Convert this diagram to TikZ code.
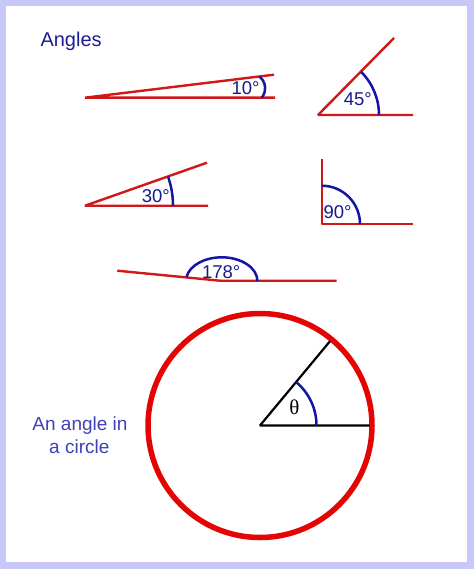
\documentclass[tikz,border=0pt]{standalone}
\usepackage{fontspec}
\usetikzlibrary{calc}
\setmainfont{Liberation Sans}
\newfontfamily\thetafont{Liberation Serif}
\definecolor{bordercol}{RGB}{200,200,248}
\definecolor{redline}{RGB}{208,24,24}
\definecolor{redcircle}{RGB}{228,4,4}
\definecolor{arcblue}{RGB}{20,20,165}
\definecolor{titleblue}{RGB}{28,28,150}
\definecolor{lblblue}{RGB}{25,25,140}
\definecolor{sideblue}{RGB}{64,64,184}
\tikzset{
  redarm/.style={draw=redline, line width=2.4pt, line join=bevel},
  bluearc/.style={draw=arcblue, line width=2.5pt},
  blackarm/.style={draw=black, line width=2.2pt, line join=bevel},
  deglbl/.style={text=lblblue, font=\fontsize{18.5}{20}\selectfont, inner sep=0pt, anchor=base},
}
\begin{document}
\begin{tikzpicture}[x=1pt,y=-1pt]
\useasboundingbox (0,0) rectangle (474,569);
\fill[bordercol] (0,0) rectangle (474,569);
\fill[white] (6,6) rectangle (467,562);
% title
\node[anchor=base west, inner sep=0pt, text=titleblue, font=\fontsize{20}{22}\selectfont] (title) at (40.3,46.7) {Angles};
% 10 degrees
\coordinate (v10) at (85,97.7);
\draw[redarm] (275,97.7) -- (v10) -- (274,74.7);
\draw[bluearc] (261.7,97.7) .. controls (266.5,92) and (266.5,82) .. (259.5,76.8);
\node[deglbl] (l10) at (245.5,94.3) {10°};
% 45 degrees
\coordinate (v45) at (318,115);
\draw[redarm] (413,115) -- (v45) -- (394,38);
\draw[bluearc] ($(v45)+(61,0)$) arc[start angle=0, end angle=-45, radius=61];
\node[deglbl] (l45) at (357.8,106) {45°};
% 30 degrees
\coordinate (v30) at (85,205.7);
\draw[redarm] (208,205.7) -- (v30) -- (207,162.7);
\draw[bluearc] ($(v30)+(88,0)$) arc[start angle=0, end angle=-19.4, radius=88];
\node[deglbl] (l30) at (155.8,202.3) {30°};
% 90 degrees
\coordinate (v90) at (321.7,224);
\draw[redarm] (412.7,224) -- (v90) -- (321.7,159);
\draw[bluearc] ($(v90)+(38.3,0)$) arc[start angle=0, end angle=-90, radius=38.3];
\node[deglbl] (l90) at (337.5,218.3) {90°};
% 178 degrees
\coordinate (v178) at (220,280.7);
\coordinate (c178) at (221.7,281);
\draw[redarm] (336.7,280.7) -- (v178) -- (117.3,270.7);
\draw[bluearc] ($(c178)+(35.7,0)$) arc[start angle=0, end angle=-169.6, x radius=35.7, y radius=23.7];
\node[deglbl] (l178) at (221.2,278.3) {178°};
% circle
\coordinate (o) at (260,425.5);
\draw[draw=redcircle, line width=5.5pt] (o) circle[radius=112];
\draw[blackarm] (369.5,425.5) -- (o) -- ++(-50.3:109.5);
\draw[bluearc] ($(o)+(56.5,0)$) arc[start angle=0, end angle=-50.3, radius=56.5];
\node[inner sep=0pt, anchor=base, font=\thetafont\fontsize{21}{23}\selectfont] (theta) at (294.3,414) {θ};
% side text
\node[inner sep=0pt, anchor=base, text=sideblue, font=\fontsize{19}{22}\selectfont] (side1) at (80,430) {An angle in};
\node[inner sep=0pt, anchor=base, text=sideblue, font=\fontsize{19}{22}\selectfont] (side2) at (79.3,453) {a circle};
\end{tikzpicture}
\end{document}
